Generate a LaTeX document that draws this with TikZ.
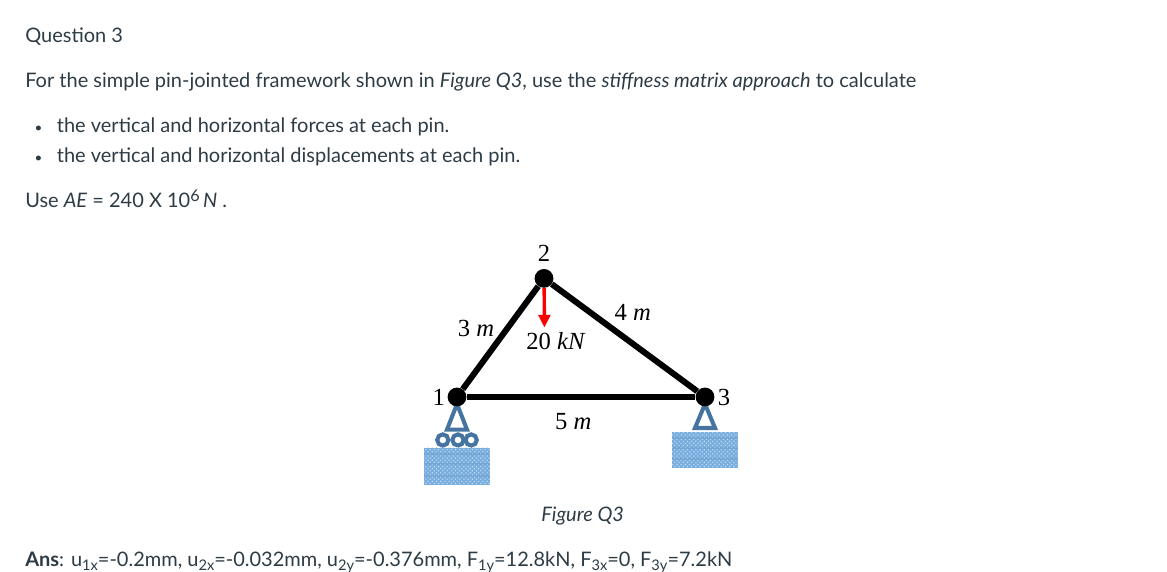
\documentclass[tikz,border=0pt]{standalone}
\usepackage{fontspec}
\setmainfont{Lato}
\newfontfamily\figfont{Liberation Serif}
\usepackage{xcolor}
\usetikzlibrary{positioning, patterns}

\definecolor{bodytext}{HTML}{2D3B45}
\definecolor{supportblue}{HTML}{44749F}
\definecolor{blockblue}{HTML}{78AEDF}

\newcommand{\lowtxt}[1]{\raisebox{-0.4ex}{\fontsize{10.4pt}{13pt}\selectfont #1}}

\tikzset{
    bodyline/.style={anchor=base west, inner sep=0pt, text=bodytext, font=\fontsize{14.22pt}{17pt}\selectfont},
    figlabel/.style={inner sep=0pt, text=black, font=\figfont\fontsize{17.5pt}{20pt}\selectfont},
    pin/.style={circle, fill=black, inner sep=0pt, minimum size=0.47cm},
    bulletdot/.style={circle, fill=bodytext, inner sep=0pt, minimum size=0.125cm},
    member/.style={black, line width=4.3pt},
    support/.style={supportblue, line width=2.9pt, line join=miter},
    block/.style={fill=blockblue, postaction={pattern=crosshatch dots, pattern color=white!65!blockblue}},
    band/.style={blockblue!85!black, opacity=0.35, line width=1.6pt},
}

\begin{document}
\begin{tikzpicture}
    \useasboundingbox (0,0) rectangle (29.175,14.3);

    % text above the figure
    \node[bodyline] (title) at (0.625,13.24) {Question 3};
    \node[bodyline] (intro) at (0.625,12.1) {For the simple pin-jointed framework shown in \textit{Figure Q3}, use the \textit{stiffness matrix approach} to calculate};
    \node[bodyline] (itema) at (1.415,10.995) {the vertical and horizontal forces at each pin.};
    \node[bodyline] (itemb) at (1.415,10.245) {the vertical and horizontal displacements at each pin.};
    \node[bulletdot] (dota) at (0.96,11.1) {};
    \node[bulletdot] (dotb) at (0.96,10.35) {};
    \node[bodyline] (use) at (0.625,9.1) {Use \textit{AE} = 240 X 10\raisebox{0.65ex}{\fontsize{11.5pt}{13pt}\selectfont 6}\,\textit{N} .};

    % supports
    \draw[support] (11.425,4.2) -- (11.175,3.56) -- (11.675,3.56) -- cycle;
    \draw[support] (11.07,3.3) circle (0.14);
    \draw[support] (11.45,3.3) circle (0.14);
    \draw[support] (11.78,3.3) circle (0.14);
    \path[block] (10.6,2.18) rectangle (12.25,3.1);
    \foreach \yband in {2.4,2.7,2.95} {
        \draw[band] (10.6,\yband) -- (12.25,\yband);
    }
    \draw[support] (17.625,4.2) -- (17.375,3.6) -- (17.875,3.6) -- cycle;
    \path[block] (16.8,2.6) rectangle (18.45,3.5);
    \foreach \yband in {2.82,3.1,3.35} {
        \draw[band] (16.8,\yband) -- (18.45,\yband);
    }

    % framework
    \node[pin] (pina) at (11.425,4.375) {};
    \node[pin] (pinb) at (13.6,7.34) {};
    \node[pin] (pinc) at (17.625,4.375) {};
    \draw[member] (pina) -- (pinb);
    \draw[member] (pinb) -- (pinc);
    \draw[member] (pina) -- (pinc);

    % load
    \coordinate (loadend) at (13.61,6.12);
    \draw[red, line width=2.4pt] (pinb) -- (13.61,6.42);
    \fill[red] (13.45,6.43) -- (13.77,6.43) -- (loadend) -- cycle;

    % labels
    \node[figlabel, left=0.05cm of pina] (numa) {1};
    \node[figlabel, above=0.17cm of pinb] (numb) {2};
    \node[figlabel, right=0.07cm of pinc] (numc) {3};
    \node[figlabel] (lenab) at (11.9,6.1) {3 \textit{m}};
    \node[figlabel] (lenbc) at (15.82,6.48) {4 \textit{m}};
    \node[figlabel] (lenac) at (14.33,3.75) {5 \textit{m}};
    \node[figlabel] (force) at (13.9,5.78) {20 \textit{kN}};

    % text below the figure
    \node[bodyline] (caption) at (13.53,1.25) {\textit{Figure Q3}};
    \node[bodyline] (answer) at (0.625,0.14) {\textbf{Ans}: u\lowtxt{1x}=-0.2mm, u\lowtxt{2x}=-0.032mm, u\lowtxt{2y}=-0.376mm, F\lowtxt{1y}=12.8kN, F\lowtxt{3x}=0, F\lowtxt{3y}=7.2kN};
\end{tikzpicture}
\end{document}
